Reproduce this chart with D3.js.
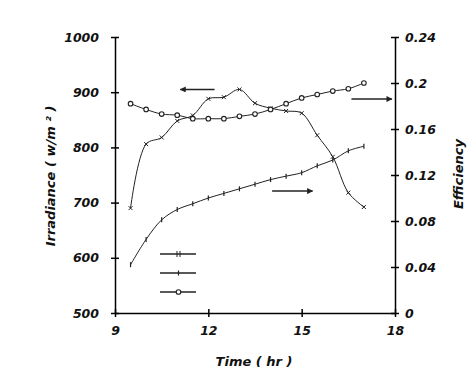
<!DOCTYPE html>
<html>
<head>
<meta charset="utf-8">
<script src="https://cdn.jsdelivr.net/npm/d3@7"></script>
<style>
  body { margin: 0; background: #fff; }
  svg { display: block; }
  .axis path, .axis line { stroke: #000; stroke-width: 1.5; }
  .axis text { font: italic bold 12.5px "DejaVu Sans", Verdana, sans-serif; fill: #111; }
  .label { font: italic bold 13px "DejaVu Sans", Verdana, sans-serif; fill: #111; }
  .series { fill: none; stroke: #222; stroke-width: 1; }
</style>
</head>
<body>
<div id="chart"></div>
<script>
// hours of the day, one reading every half hour
const times = [9.5, 10, 10.5, 11, 11.5, 12, 12.5, 13, 13.5, 14, 14.5, 15, 15.5, 16, 16.5, 17]
const irradiance = [690, 806, 818, 848, 858, 888, 891, 905, 880, 871, 866, 862, 822, 783, 718, 692]
const efficiencyA = [0.182, 0.177, 0.173, 0.172, 0.169, 0.169, 0.169, 0.171, 0.173, 0.177, 0.182, 0.187, 0.190, 0.193, 0.195, 0.200]
const efficiencyB = [0.042, 0.064, 0.081, 0.090, 0.095, 0.100, 0.104, 0.108, 0.112, 0.116, 0.119, 0.122, 0.128, 0.133, 0.141, 0.145]
const timeTicks = [9, 12, 15, 18]
const irrTicks = [500, 600, 700, 800, 900, 1000]
const effTicks = [0, 0.04, 0.08, 0.12, 0.16, 0.2, 0.24]
// annotation arrows: [from time, to time, value, axis]
const arrows = [
  [12.2, 11.1, 905, 'left'],
  [16.6, 17.9, 0.186, 'right'],
  [14.05, 15.35, 0.106, 'right']
]

const width = 474, height = 373
const margin = {top: 37, right: 79, bottom: 60, left: 115}

const svg = d3.select('#chart').append('svg').attr('width', width).attr('height', height)

const x = d3.scaleLinear().domain([9, 18]).range([margin.left, width - margin.right])
const yL = d3.scaleLinear().domain([500, 1000]).range([height - margin.bottom, margin.top])
const yR = d3.scaleLinear().domain([0, 0.24]).range([height - margin.bottom, margin.top])

// axes, ticks cross the axis line
const bottom = svg.append('g').attr('class', 'axis')
  .attr('transform', `translate(0,${height - margin.bottom})`)
  .call(d3.axisBottom(x).tickValues(timeTicks).tickSize(4).tickSizeOuter(0).tickPadding(9).tickFormat(d3.format('d')))
bottom.selectAll('.tick line').attr('y1', -4)

const left = svg.append('g').attr('class', 'axis')
  .attr('transform', `translate(${margin.left},0)`)
  .call(d3.axisLeft(yL).tickValues(irrTicks).tickSize(4).tickSizeOuter(0).tickPadding(12).tickFormat(d3.format('d')))
left.selectAll('.tick line').attr('x1', 4)

const right = svg.append('g').attr('class', 'axis')
  .attr('transform', `translate(${width - margin.right},0)`)
  .call(d3.axisRight(yR).tickValues(effTicks).tickSize(4).tickSizeOuter(0).tickPadding(6).tickFormat(d => String(+d.toFixed(2))))
right.selectAll('.tick line').attr('x1', -4)

// axis titles
svg.append('text').attr('class', 'label')
  .attr('x', 254).attr('y', 366).attr('text-anchor', 'middle')
  .text('Time ( hr )')
svg.append('text').attr('class', 'label')
  .attr('transform', `translate(55,176) rotate(-90)`).attr('text-anchor', 'middle')
  .text('Irradiance ( w/m ² )')
svg.append('text').attr('class', 'label')
  .attr('transform', `translate(463,174) rotate(-90)`).attr('text-anchor', 'middle')
  .text('Efficiency')

const curve = d3.curveCatmullRom.alpha(0.5)
const irrLine = d3.line().x((d, i) => x(times[i])).y(d => yL(d)).curve(curve)
const effLine = d3.line().x((d, i) => x(times[i])).y(d => yR(d)).curve(curve)

svg.append('path').attr('class', 'series').attr('d', irrLine(irradiance))
svg.append('path').attr('class', 'series').attr('d', effLine(efficiencyA))
svg.append('path').attr('class', 'series').attr('d', effLine(efficiencyB))

// markers
const cross = d3.symbol().type(d3.symbolX).size(12)
svg.append('g').selectAll('path').data(irradiance).join('path')
  .attr('d', cross)
  .attr('transform', (d, i) => `translate(${x(times[i])},${yL(d)})`)
  .attr('fill', 'none').attr('stroke', '#222').attr('stroke-width', 1)

svg.append('g').selectAll('line').data(efficiencyB).join('line')
  .attr('x1', (d, i) => x(times[i])).attr('x2', (d, i) => x(times[i]))
  .attr('y1', d => yR(d) - 2.5).attr('y2', d => yR(d) + 2.5)
  .attr('stroke', '#222').attr('stroke-width', 1.2)

svg.append('g').selectAll('circle').data(efficiencyA).join('circle')
  .attr('cx', (d, i) => x(times[i])).attr('cy', d => yR(d)).attr('r', 2.3)
  .attr('fill', '#fff').attr('stroke', '#222').attr('stroke-width', 1.1)

// arrows
svg.append('defs').append('marker')
  .attr('id', 'head').attr('viewBox', '0 0 10 10').attr('refX', 9).attr('refY', 5)
  .attr('markerWidth', 8).attr('markerHeight', 6).attr('orient', 'auto')
  .attr('markerUnits', 'userSpaceOnUse')
  .append('path').attr('d', 'M0,0L10,5L0,10z').attr('fill', '#222')
svg.append('g').selectAll('line').data(arrows).join('line')
  .attr('x1', d => x(d[0])).attr('x2', d => x(d[1]))
  .attr('y1', d => (d[3] === 'left' ? yL : yR)(d[2]))
  .attr('y2', d => (d[3] === 'left' ? yL : yR)(d[2]))
  .attr('stroke', '#222').attr('stroke-width', 1.5)
  .attr('marker-end', 'url(#head)')

// legend (keys only, no text in the picture)
const legendY = [254, 273, 292]
const lg = svg.append('g')
lg.selectAll('line.key').data(legendY).join('line').attr('class', 'key')
  .attr('x1', 160).attr('x2', 196).attr('y1', d => d).attr('y2', d => d)
  .attr('stroke', '#222').attr('stroke-width', 1.5)
;[177, 180].forEach(cx => lg.append('line')
  .attr('x1', cx).attr('x2', cx).attr('y1', legendY[0] - 3).attr('y2', legendY[0] + 3)
  .attr('stroke', '#222').attr('stroke-width', 1))
lg.append('line').attr('x1', 178.5).attr('x2', 178.5)
  .attr('y1', legendY[1] - 2.5).attr('y2', legendY[1] + 2.5)
  .attr('stroke', '#222').attr('stroke-width', 1.2)
lg.append('circle').attr('cx', 178.5).attr('cy', legendY[2]).attr('r', 2.3)
  .attr('fill', '#fff').attr('stroke', '#222').attr('stroke-width', 1.1)
</script>
</body>
</html>
